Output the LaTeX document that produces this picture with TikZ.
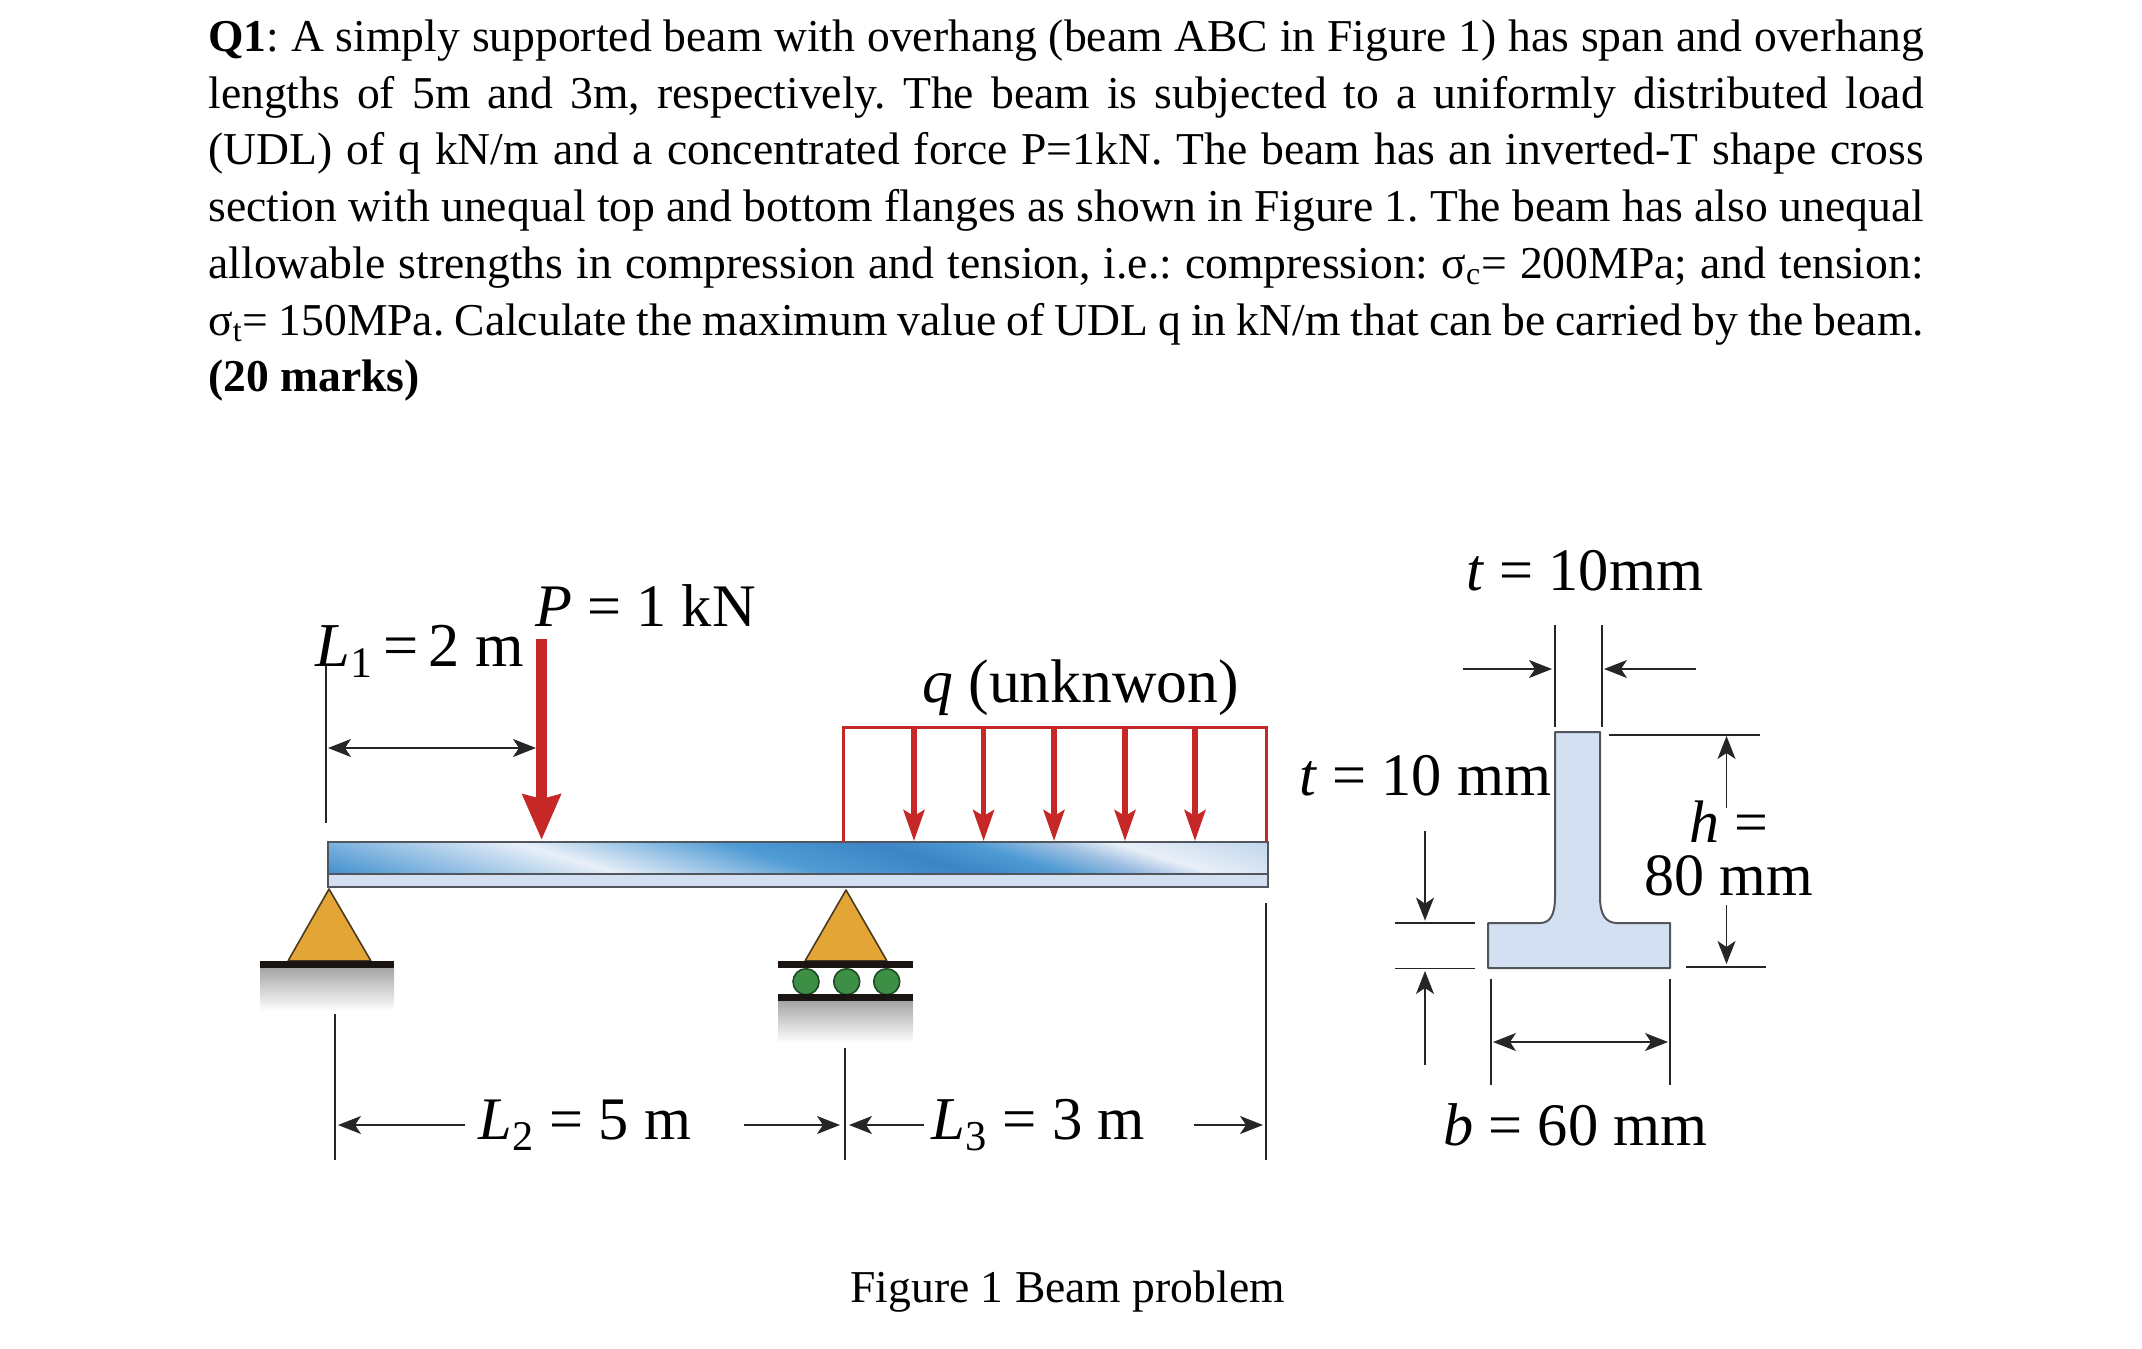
\documentclass[tikz,border=0pt]{standalone}
\usepackage{fontspec}
\setmainfont{Liberation Serif}
\usetikzlibrary{arrows.meta}
\definecolor{loadred}{HTML}{C62828}
\definecolor{pinorange}{HTML}{E3A535}
\definecolor{pinedge}{HTML}{4A3A20}
\definecolor{rollgreen}{HTML}{3D8F45}
\definecolor{rolledge}{HTML}{1F4A25}
\definecolor{paleblue}{HTML}{D3E0F1}
\definecolor{edgegrey}{HTML}{50565C}
\definecolor{barblack}{HTML}{1A1512}
\definecolor{beamA}{HTML}{3F8FCF}
\definecolor{beamB}{HTML}{E8EFF8}
\definecolor{beamC}{HTML}{4F9BD4}
\definecolor{beamD}{HTML}{3C84C6}
\definecolor{beamE}{HTML}{A0C0E2}
\definecolor{beamF}{HTML}{C0D5EC}
\pgfdeclareverticalshading{beamblue}{100bp}{
  color(0bp)=(beamA);
  color(25bp)=(beamA);
  color(39bp)=(beamB);
  color(49bp)=(beamC);
  color(56bp)=(beamD);
  color(60.5bp)=(beamC);
  color(64.5bp)=(beamE);
  color(67.5bp)=(beamB);
  color(75bp)=(beamF);
  color(100bp)=(beamF)}
\tikzset{
  >={Stealth[length=11.5pt,width=9pt,inset=3pt]},
  dimline/.style={line width=0.7pt,black!85},
  dimarrow/.style={dimline,->},
  twoarrow/.style={dimline,<->},
  labelbig/.style={anchor=base west,inner sep=0pt,font=\fontsize{30.2}{32}\selectfont},
  udlarrow/.style={loadred,line width=2.6pt,-{Stealth[length=15.5pt,width=10.5pt,inset=3pt]}},
  pinshape/.style={fill=pinorange,draw=pinedge,line width=0.8pt,line join=round},
  groundbar/.style={fill=barblack,draw=none},
  groundfade/.style={top color=black!35,bottom color=white,draw=none},
  roller/.style={fill=rollgreen,draw=rolledge,line width=0.8pt},
  steel/.style={draw=edgegrey,line width=1.2pt}
}
\begin{document}
\begin{tikzpicture}[x=0.5pt,y=-0.5pt]
    \useasboundingbox (0,0) rectangle (2142,1349);
    % question text
    \node (question) [anchor=north west,inner sep=0pt,text width=857.7pt,align=justify,
        font=\fontsize{22.8}{28.35}\selectfont] at (208,19.5) {\frenchspacing
        \textbf{Q1}: A simply supported beam with overhang (beam ABC in Figure 1) has span and overhang\linebreak
        lengths of 5m and 3m, respectively. The beam is subjected to a uniformly distributed load\linebreak
        (UDL) of q kN/m and a concentrated force P=1kN. The beam has an inverted-T shape cross\linebreak
        section with unequal top and bottom flanges as shown in Figure 1. The beam has also unequal\linebreak
        allowable strengths in compression and tension, i.e.: compression: σ\textsubscript{c}= 200MPa; and tension:\linebreak
        σ\textsubscript{t}= 150MPa. Calculate the maximum value of UDL q in kN/m that can be carried by the beam.\linebreak
        \textbf{(20 marks)}};
    % beam
    \begin{scope}
        \clip (328,842) rectangle (1268,874);
        \shade [shading=beamblue,transform canvas={rotate around={-17:(798,858)}}]
            (198,705) rectangle (1398,1011);
    \end{scope}
    \draw [steel] (328,842) rectangle (1268,874);
    \draw [steel,fill=paleblue] (328,874) rectangle (1268,887);
    % load P
    \draw [loadred,line width=5.5pt,-{Stealth[length=22.5pt,width=18.5pt,inset=2pt]}] (541.6,639) -- (541.6,840);
    % load q
    \draw [loadred,line width=1.5pt] (843,842) -- (843,727) -- (1266,727) -- (1266,842);
    \draw [udlarrow] (914,727) -- (914,841);
    \draw [udlarrow] (983.6,727) -- (983.6,841);
    \draw [udlarrow] (1054,727) -- (1054,841);
    \draw [udlarrow] (1125,727) -- (1125,841);
    \draw [udlarrow] (1195,727) -- (1195,841);
    % left support
    \shade [groundfade] (260,968) rectangle (394,1011);
    \draw [pinshape] (329,889) -- (288,961) -- (371,961) -- cycle;
    \fill [groundbar] (260,961) rectangle (394,968);
    % middle support
    \shade [groundfade] (778,1001) rectangle (913,1043);
    \draw [pinshape] (846,890) -- (805,961) -- (887,961) -- cycle;
    \draw [roller] (806,981.7) circle (13);
    \draw [roller] (846.7,981.7) circle (13);
    \draw [roller] (886.7,981.7) circle (13);
    \fill [groundbar] (778,961) rectangle (913,968);
    \fill [groundbar] (778,994) rectangle (913,1001);
    % beam dimensions
    \draw [dimline] (326,666) -- (326,823);
    \draw [twoarrow] (328,748) -- (536,748);
    \draw [dimline] (335,1013.5) -- (335,1159.5);
    \draw [dimline] (845,1048) -- (845,1159.5);
    \draw [dimline] (1266,903) -- (1266,1159.5);
    \draw [dimarrow] (464.5,1125) -- (338,1125);
    \draw [dimarrow] (743.7,1125) -- (840,1125);
    \draw [dimarrow] (924,1125) -- (849,1125);
    \draw [dimarrow] (1194,1125) -- (1263,1125);
    \node (pLabel) [labelbig] at (535,626) {\textit{P} = 1 kN};
    \node (lOne) [labelbig,font=\fontsize{31.2}{32}\selectfont] at (315,666) {\textit{L}\textsubscript{1}\,=\,2 m};
    \node (qLabel) [labelbig,font=\fontsize{30.8}{32}\selectfont] at (922,702) {\textit{q} (unknwon)};
    \node (lTwo) [labelbig] at (478.5,1139.5) {\textit{L}\textsubscript{2} = 5 m};
    \node (lThree) [labelbig,font=\fontsize{30.4}{32}\selectfont] at (931,1139.5) {\textit{L}\textsubscript{3} = 3 m};
    % cross section
    \draw [draw=edgegrey,line width=1pt,fill=paleblue,line join=round]
        (1555,732) -- (1600,732) -- (1600,897)
        .. controls (1600,915) and (1606,923) .. (1617,923)
        -- (1670,923) -- (1670,968) -- (1488,968) -- (1488,923) -- (1540,923)
        .. controls (1550,923) and (1555,915) .. (1555,897) -- cycle;
    % cross section dimensions
    \draw [dimline] (1555,625) -- (1555,726.5);
    \draw [dimline] (1602,625) -- (1602,726.5);
    \draw [dimarrow] (1463,669) -- (1552,669);
    \draw [dimarrow] (1696,669) -- (1604,669);
    \draw [dimline] (1609,735) -- (1760,735);
    \draw [dimarrow] (1726.5,808) -- (1726.5,736);
    \draw [dimarrow] (1726.5,905) -- (1726.5,964);
    \draw [dimline] (1686,967) -- (1766,967);
    \draw [dimline] (1395,923) -- (1475,923);
    \draw [dimline] (1395,968.5) -- (1475,968.5);
    \draw [dimarrow] (1425,831) -- (1425,920.6);
    \draw [dimarrow] (1425,1064.5) -- (1425,971);
    \draw [dimline] (1491,979) -- (1491,1085);
    \draw [dimline] (1670,979) -- (1670,1085);
    \draw [twoarrow] (1493,1042) -- (1668,1042);
    \node (tTop) [labelbig] at (1466,590) {\textit{t} = 10mm};
    \node (tLeft) [labelbig] at (1299,795) {\textit{t} = 10 mm};
    \node (hLabel) [anchor=base,inner sep=0pt,align=center,font=\fontsize{30}{26.5}\selectfont] at (1729,895) {\textit{h} =\\80 mm};
    \node (bLabel) [labelbig] at (1443,1145) {\textit{b} = 60 mm};
    % caption
    \node (caption) [anchor=base west,inner sep=0pt,font=\fontsize{22.8}{28.35}\selectfont] at (850,1302) {Figure 1 Beam problem};
\end{tikzpicture}
\end{document}
